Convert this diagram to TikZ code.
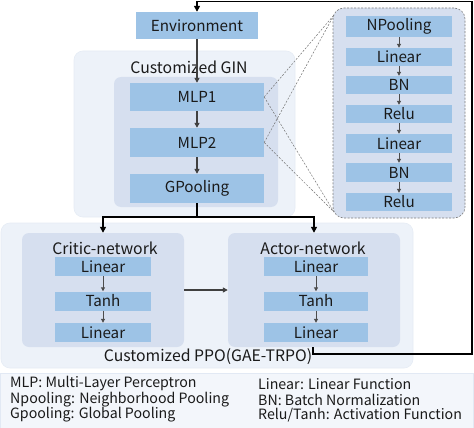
\documentclass[tikz,border=0pt]{standalone}
\usepackage{fontspec}
\setmainfont{Noto Sans CJK SC}
\usetikzlibrary{arrows.meta}
\definecolor{blk}{HTML}{9DC3E6}
\definecolor{outerc}{HTML}{EDF2F9}
\definecolor{innerc}{HTML}{D6DFEF}
\definecolor{legc}{HTML}{F3F6FB}
\definecolor{txt}{HTML}{1A1A1A}
\tikzset{
  bluebox/.style={fill=blk, draw=none, inner sep=0pt, text=txt, font=\fontsize{15.2}{17}\selectfont},
  smallbox/.style={bluebox, font=\fontsize{15.2}{17}\selectfont},
  outerbox/.style={fill=outerc, draw=innerc!60, line width=0.6pt, rounded corners=9pt, inner sep=0pt},
  innerbox/.style={fill=innerc, draw=none, rounded corners=7pt, inner sep=0pt},
  lbl/.style={text=txt, inner sep=0pt, font=\fontsize{15.8}{18}\selectfont},
  garrow/.style={draw=black!75, line width=1.3pt, -{Triangle[length=5pt,width=5pt]}},
  sarrow/.style={draw=black!70, line width=1pt, -{Triangle[length=4pt,width=4pt]}},
  barrow/.style={draw=black, line width=1.5pt, -{Triangle[length=6pt,width=6pt]}},
  zoomline/.style={draw=black!55, dashed, dash pattern=on 2pt off 1.5pt, line width=0.5pt},
  legtext/.style={text=txt, inner sep=0pt, anchor=west, font=\fontsize{14.2}{16}\selectfont},
}
\begin{document}
\begin{tikzpicture}[x=1pt,y=-1pt]
\useasboundingbox (0,0) rectangle (474,428);
\fill[white] (0,0) rectangle (474,428);

% GIN containers
\node[outerbox, minimum width=221pt, minimum height=166pt] (ginout) at (184.5,134) {};
\node[innerbox, minimum width=164pt, minimum height=130pt] (ginin) at (196,142) {};
\node[lbl] (ginlbl) at (189,67) {Customized GIN};

% Environment and GIN blocks
\node[bluebox, minimum width=122pt, minimum height=27pt] (env) at (197,25.5) {Environment};
\node[bluebox, minimum width=134pt, minimum height=28pt] (mlp1) at (197,97) {MLP1};
\node[bluebox, minimum width=134pt, minimum height=29pt] (mlp2) at (197,142.5) {MLP2};
\node[bluebox, minimum width=134pt, minimum height=29pt] (gpool) at (197,188.5) {GPooling};

% Zoomed box
\node[fill=innerc, draw=black!50, dashed, dash pattern=on 2pt off 1.5pt, line width=0.6pt, rounded corners=11pt, minimum width=132pt, minimum height=210pt, inner sep=0pt] (zbox) at (399,113) {};
\node[smallbox, minimum width=106pt, minimum height=21pt] (np) at (399,26.5) {NPooling};
\node[smallbox, minimum width=106pt, minimum height=18pt] (lin1) at (399,57) {Linear};
\node[smallbox, minimum width=106pt, minimum height=18pt] (bn1) at (399,85) {BN};
\node[smallbox, minimum width=106pt, minimum height=18pt] (relu1) at (399,114) {Relu};
\node[smallbox, minimum width=106pt, minimum height=19pt] (lin2) at (399,143.5) {Linear};
\node[smallbox, minimum width=106pt, minimum height=19pt] (bn2) at (399,172.5) {BN};
\node[smallbox, minimum width=106pt, minimum height=18pt] (relu2) at (399,202) {Relu};
\draw[sarrow] (np) -- (lin1);
\draw[sarrow] (lin1) -- (bn1);
\draw[sarrow] (bn1) -- (relu1);
\draw[sarrow] (relu1) -- (lin2);
\draw[sarrow] (lin2) -- (bn2);
\draw[sarrow] (bn2) -- (relu2);

\coordinate (ztop) at (334,15);
\coordinate (zbot) at (334,212);
\draw[zoomline] (mlp1.east) -- (ztop);
\draw[zoomline] (mlp1.east) -- (zbot);
\draw[zoomline] (mlp2.east) -- (ztop);
\draw[zoomline] (mlp2.east) -- (zbot);

% GIN arrows
\draw[garrow] (env) -- (mlp1);
\draw[garrow] (mlp1) -- (mlp2);
\draw[garrow] (mlp2) -- (gpool);

% PPO containers
\node[outerbox, minimum width=412pt, minimum height=145pt] (ppo) at (207,295.5) {};
\node[innerbox, minimum width=162pt, minimum height=114pt] (critic) at (103,290) {};
\node[innerbox, minimum width=172pt, minimum height=114pt] (actor) at (314,290) {};
\node[lbl] (clbl) at (105,248) {Critic-network};
\node[lbl] (albl) at (313,248) {Actor-network};
\node[lbl] (ppolbl) at (208,357) {Customized PPO(GAE-TRPO)};

\node[smallbox, minimum width=96pt, minimum height=19pt] (cl1) at (103,266.5) {Linear};
\node[smallbox, minimum width=96pt, minimum height=19pt] (ct) at (103,301) {Tanh};
\node[smallbox, minimum width=96pt, minimum height=19pt] (cl2) at (103,332.5) {Linear};
\node[smallbox, minimum width=104pt, minimum height=19pt] (al1) at (316,266.5) {Linear};
\node[smallbox, minimum width=104pt, minimum height=19pt] (at) at (316,301) {Tanh};
\node[smallbox, minimum width=104pt, minimum height=19pt] (al2) at (316,332.5) {Linear};
\draw[sarrow] (cl1) -- (ct);
\draw[sarrow] (ct) -- (cl2);
\draw[sarrow] (al1) -- (at);
\draw[sarrow] (at) -- (al2);
\draw[garrow] (critic.east) -- (actor.west);

% split from GPooling
\coordinate (split) at (197,217);
\draw[black, line width=1.5pt] (gpool.south) -- (split);
\draw[barrow] (split) -| (critic.north);
\draw[barrow] (split) -| (actor.north);

% feedback loop
\coordinate (fb1) at (313,354);
\coordinate (fb2) at (472,354);
\coordinate (fb3) at (472,1.5);
\coordinate (fb4) at (197,1.5);
\draw[barrow] (actor.south -| fb1) -- (fb1) -- (fb2) -- (fb3) -- (fb4) -- (env.north);

% legend
\node[fill=legc, draw=innerc!70, line width=0.6pt, minimum width=473pt, minimum height=55pt, inner sep=0pt] (leg) at (237,400.5) {};
\node[legtext] (l1) at (10,384) {MLP: Multi-Layer Perceptron};
\node[legtext] (l2) at (10,399.5) {Npooling: Neighborhood Pooling};
\node[legtext] (l3) at (10,415) {Gpooling: Global Pooling};
\node[legtext] (r1) at (258,384) {Linear: Linear Function};
\node[legtext] (r2) at (258,399.5) {BN: Batch Normalization};
\node[legtext] (r3) at (258,415) {Relu/Tanh: Activation Function};
\end{tikzpicture}
\end{document}
